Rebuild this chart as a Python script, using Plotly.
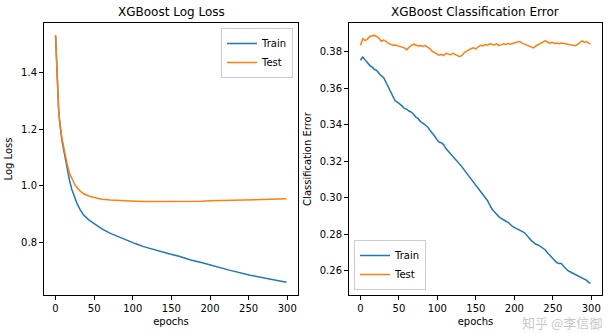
import plotly.graph_objects as go

# ---- Data: Log Loss (left) ----
loss_epochs = [0, 1, 2, 3, 4, 5, 6, 8, 10, 12, 15, 18, 21, 25, 28, 32, 36, 43, 50, 60,
               71, 82, 93, 104, 114, 125, 136, 148, 160, 175, 190, 200, 225, 252, 275, 299]
loss_train = [1.533, 1.45, 1.38, 1.32, 1.27, 1.235, 1.205, 1.165, 1.135, 1.105, 1.062, 1.020,
              0.988, 0.955, 0.936, 0.915, 0.898, 0.880, 0.866, 0.848, 0.832, 0.819, 0.806,
              0.795, 0.785, 0.776, 0.767, 0.759, 0.751, 0.738, 0.728, 0.720, 0.702, 0.684,
              0.671, 0.659]
loss_test = [1.533, 1.45, 1.38, 1.32, 1.272, 1.237, 1.208, 1.172, 1.145, 1.115, 1.078, 1.045,
             1.025, 1.004, 0.993, 0.981, 0.973, 0.964, 0.959, 0.953, 0.950, 0.948, 0.947,
             0.946, 0.945, 0.945, 0.944, 0.944, 0.944, 0.945, 0.946, 0.947, 0.949, 0.952,
             0.953, 0.954]

# ---- Data: Classification Error (right) ----
err_epochs = list(range(0, 298, 3)) + [299]
err_train = [0.3754, 0.3772, 0.3756, 0.3738, 0.3726, 0.3716, 0.3704, 0.3698, 0.3682, 0.3668,
             0.3660, 0.3634, 0.3614, 0.3590, 0.3556, 0.3532, 0.3524, 0.3516, 0.3504, 0.3490,
             0.3486, 0.3476, 0.3470, 0.3458, 0.3442, 0.3434, 0.3418, 0.3410, 0.3402, 0.3390,
             0.3372, 0.3358, 0.3340, 0.3322, 0.3306, 0.3302, 0.3292, 0.3270, 0.3256, 0.3246,
             0.3230, 0.3218, 0.3200, 0.3188, 0.3170, 0.3152, 0.3136, 0.3118, 0.3104, 0.3086,
             0.3070, 0.3052, 0.3036, 0.3022, 0.3008, 0.2986, 0.2962, 0.2938, 0.2924, 0.2908,
             0.2896, 0.2888, 0.2878, 0.2872, 0.2866, 0.2852, 0.2842, 0.2836, 0.2830, 0.2822,
             0.2816, 0.2810, 0.2796, 0.2778, 0.2766, 0.2756, 0.2746, 0.2742, 0.2734, 0.2724,
             0.2716, 0.2700, 0.2686, 0.2674, 0.2664, 0.2646, 0.2640, 0.2640, 0.2626, 0.2610,
             0.2600, 0.2594, 0.2588, 0.2582, 0.2574, 0.2568, 0.2562, 0.2556, 0.2548, 0.2536,
             0.2532]
err_test = [0.3836, 0.3872, 0.3862, 0.3870, 0.3884, 0.3888, 0.3890, 0.3884, 0.3874, 0.3858,
            0.3864, 0.3858, 0.3846, 0.3842, 0.3836, 0.3838, 0.3832, 0.3830, 0.3826, 0.3822,
            0.3812, 0.3826, 0.3836, 0.3842, 0.3836, 0.3832, 0.3834, 0.3830, 0.3834, 0.3826,
            0.3818, 0.3804, 0.3796, 0.3788, 0.3782, 0.3786, 0.3780, 0.3792, 0.3788, 0.3784,
            0.3792, 0.3786, 0.3782, 0.3774, 0.3780, 0.3796, 0.3804, 0.3812, 0.3818, 0.3822,
            0.3816, 0.3828, 0.3836, 0.3832, 0.3840, 0.3836, 0.3844, 0.3842, 0.3838, 0.3844,
            0.3834, 0.3838, 0.3844, 0.3840, 0.3846, 0.3842, 0.3848, 0.3850, 0.3854, 0.3856,
            0.3848, 0.3842, 0.3838, 0.3834, 0.3828, 0.3822, 0.3832, 0.3840, 0.3848, 0.3856,
            0.3860, 0.3854, 0.3848, 0.3852, 0.3846, 0.3848, 0.3844, 0.3848, 0.3846, 0.3842,
            0.3840, 0.3836, 0.3834, 0.3834, 0.3840, 0.3852, 0.3860, 0.3852, 0.3856, 0.3846,
            0.3842]

x_ticks = [0, 50, 100, 150, 200, 250, 300]
loss_ticks = [0.8, 1.0, 1.2, 1.4]
err_ticks = [0.26, 0.28, 0.30, 0.32, 0.34, 0.36, 0.38]

BLUE = "#1f77b4"
ORANGE = "#ff7f0e"
FONT = "DejaVu Sans"
W, H = 612, 333

fig = go.Figure()
fig.add_trace(go.Scatter(x=loss_epochs, y=loss_train, mode="lines", name="Train",
                         line=dict(color=BLUE, width=1.5), xaxis="x", yaxis="y", legend="legend"))
fig.add_trace(go.Scatter(x=loss_epochs, y=loss_test, mode="lines", name="Test",
                         line=dict(color=ORANGE, width=1.5), xaxis="x", yaxis="y", legend="legend"))
fig.add_trace(go.Scatter(x=err_epochs, y=err_train, mode="lines", name="Train",
                         line=dict(color=BLUE, width=1.5), xaxis="x2", yaxis="y2", legend="legend2"))
fig.add_trace(go.Scatter(x=err_epochs, y=err_test, mode="lines", name="Test",
                         line=dict(color=ORANGE, width=1.5), xaxis="x2", yaxis="y2", legend="legend2"))

ax_common = dict(showline=True, mirror=True, linecolor="#000000", linewidth=1,
                 ticks="outside", ticklen=4, tickwidth=1, tickcolor="#000000",
                 showgrid=False, zeroline=False,
                 tickfont=dict(family=FONT, size=10, color="#000000"))

xl0, xl1 = 44 / W, 298 / W
xr0, xr1 = 349 / W, 602 / W
yb, yt = 1 - 295 / H, 1 - 23 / H

fig.update_layout(
    width=W, height=H, margin=dict(l=0, r=0, t=0, b=0),
    paper_bgcolor="white", plot_bgcolor="white",
    font=dict(family=FONT, size=10, color="#000000"),
    xaxis=dict(domain=[xl0, xl1], range=[-14.95, 313.95], tickvals=x_ticks,
               title=dict(text="epochs", font=dict(size=10), standoff=4), anchor="y", **ax_common),
    yaxis=dict(domain=[yb, yt], range=[0.614, 1.576], tickvals=loss_ticks, tickformat=".1f",
               title=dict(text="Log Loss", font=dict(size=10), standoff=6), anchor="x", **ax_common),
    xaxis2=dict(domain=[xr0, xr1], range=[-14.95, 313.95], tickvals=x_ticks,
                title=dict(text="epochs", font=dict(size=10), standoff=4), anchor="y2", **ax_common),
    yaxis2=dict(domain=[yb, yt], range=[0.2468, 0.3958], tickvals=err_ticks, tickformat=".2f",
                title=dict(text="Classification Error", font=dict(size=10), standoff=6),
                anchor="x2", **ax_common),
    legend=dict(x=293 / W, y=1 - 28 / H, xanchor="right", yanchor="top",
                bgcolor="rgba(255,255,255,0.8)", bordercolor="#cccccc", borderwidth=1,
                font=dict(family=FONT, size=10), itemwidth=30, tracegroupgap=0),
    legend2=dict(x=354 / W, y=1 - 290 / H, xanchor="left", yanchor="bottom",
                 bgcolor="rgba(255,255,255,0.8)", bordercolor="#cccccc", borderwidth=1,
                 font=dict(family=FONT, size=10), itemwidth=30, tracegroupgap=0),
    showlegend=True,
    annotations=[
        dict(text="XGBoost Log Loss", x=(xl0 + xl1) / 2, y=1 - 12 / H, xref="paper", yref="paper",
             showarrow=False, font=dict(family=FONT, size=12, color="#000000"),
             xanchor="center", yanchor="middle"),
        dict(text="XGBoost Classification Error", x=(xr0 + xr1) / 2, y=1 - 12 / H,
             xref="paper", yref="paper", showarrow=False,
             font=dict(family=FONT, size=12, color="#000000"), xanchor="center", yanchor="middle"),
        dict(text="知乎 @李信御", x=604 / W, y=1 - 322 / H, xref="paper", yref="paper",
             showarrow=False, font=dict(family="Noto Sans CJK SC", size=13,
                                        color="rgba(160,160,160,0.6)"),
             xanchor="right", yanchor="middle"),
    ],
)

fig.write_html("out.html")
